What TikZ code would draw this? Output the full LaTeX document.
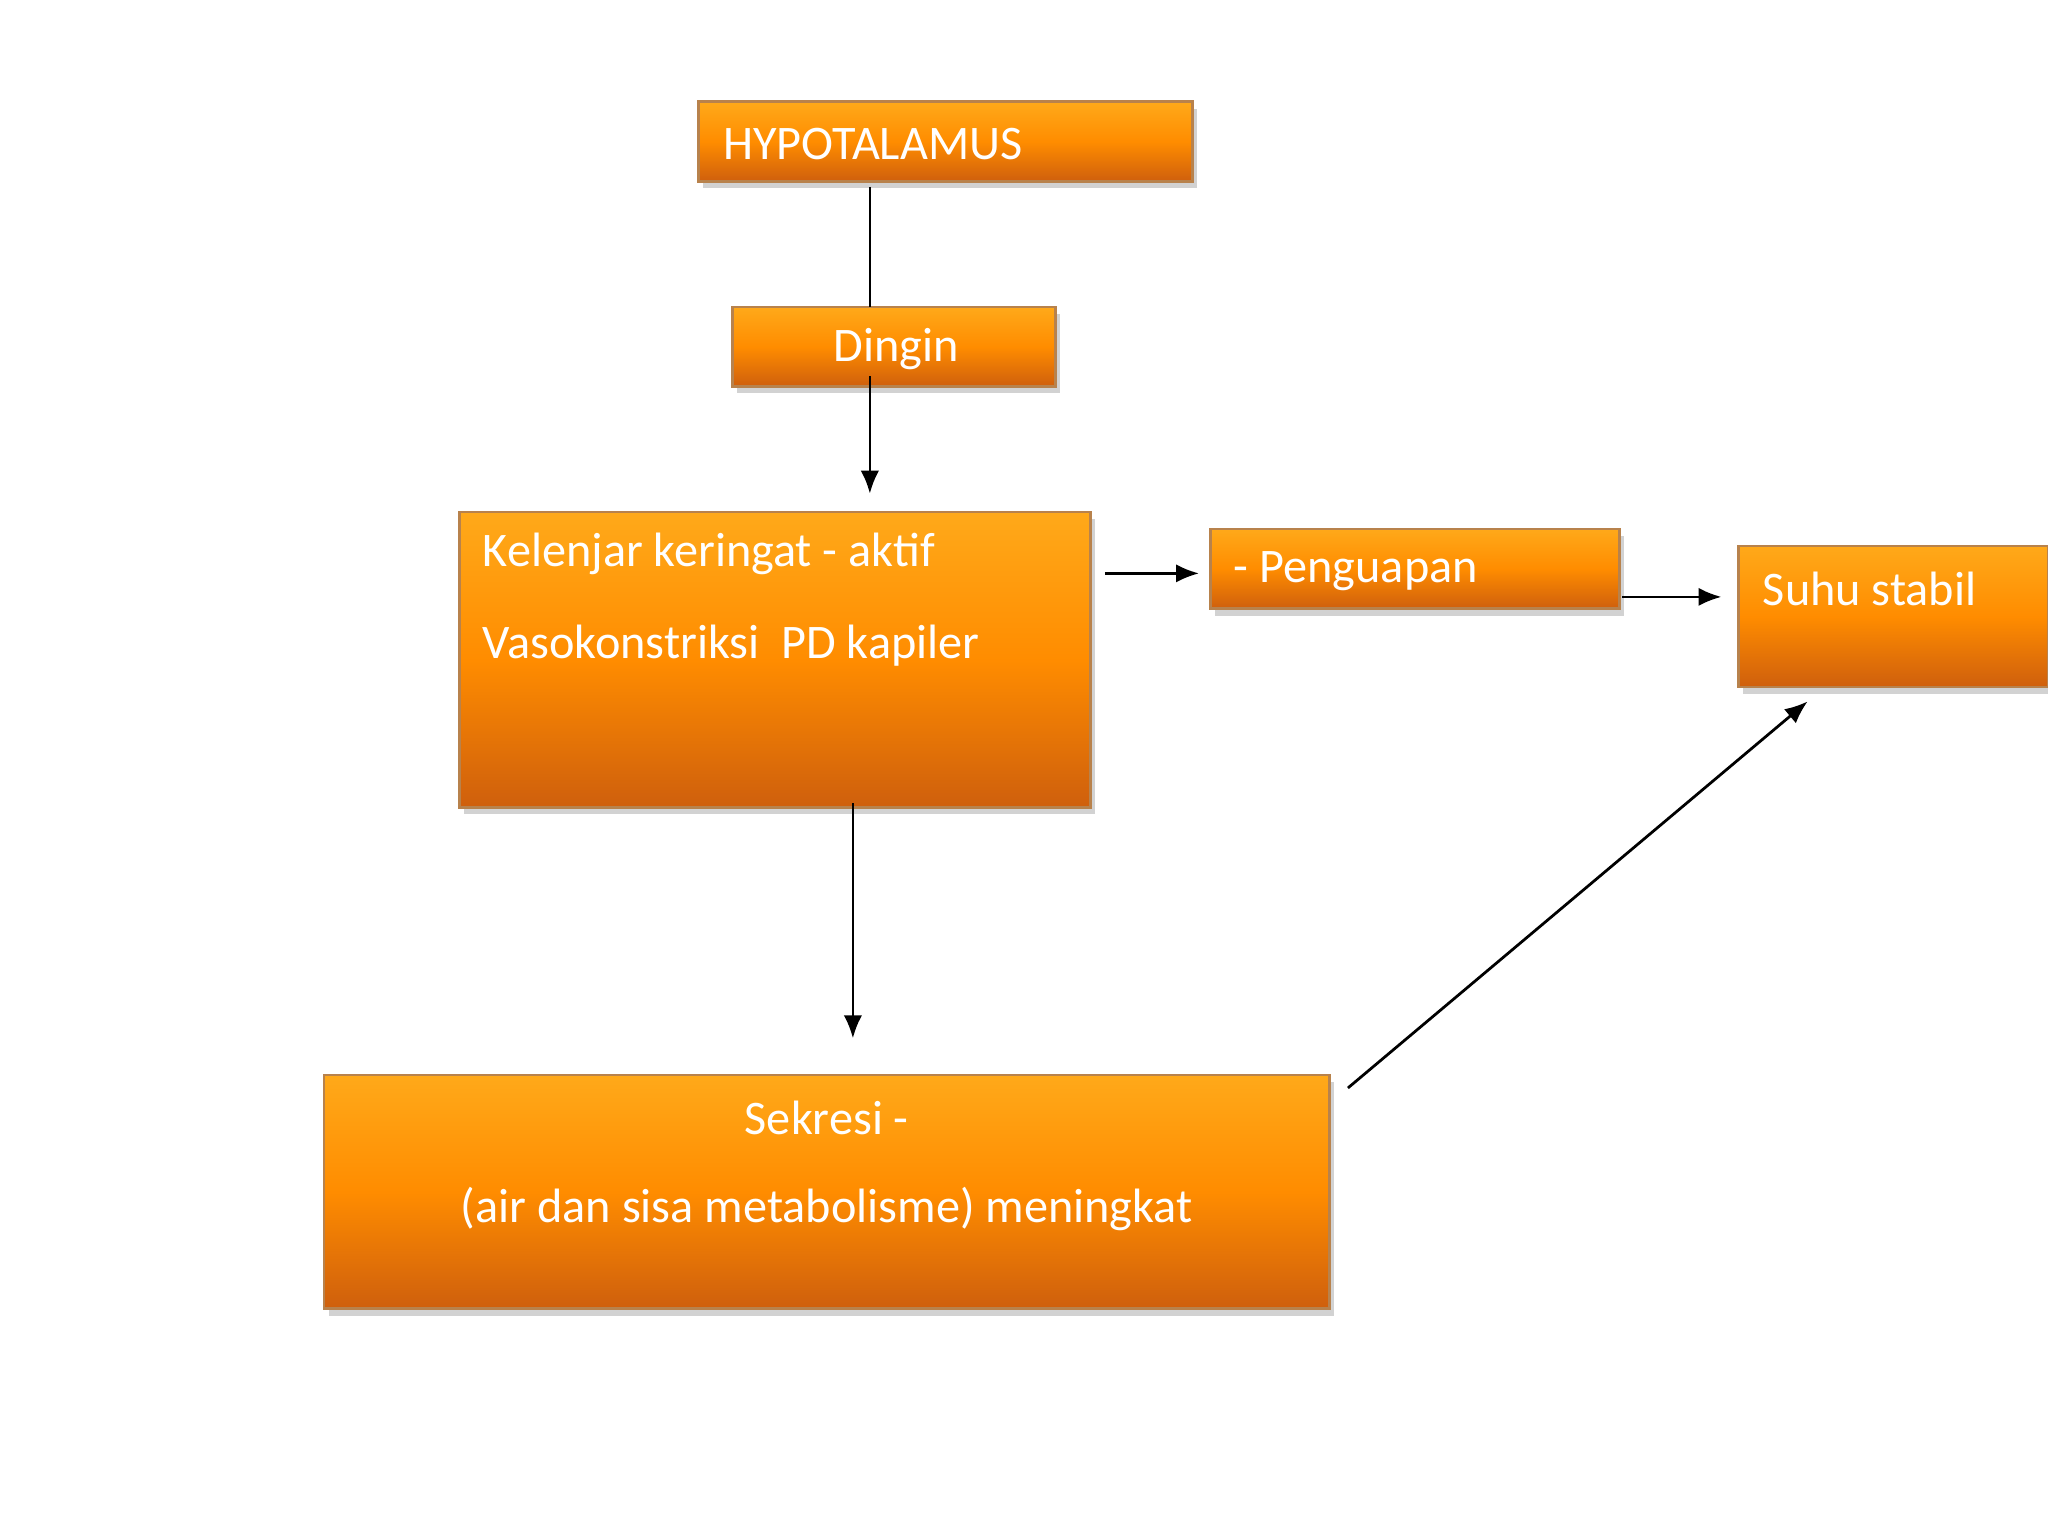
\documentclass[tikz,border=0pt]{standalone}
\usepackage{fontspec}
\setmainfont{Carlito}
\usetikzlibrary{arrows.meta,shadows}
\begin{document}
\begin{tikzpicture}[x=0.01cm,y=-0.01cm,
 box/.style={draw=orange!60!black!70,line width=0.6pt,top color=orange!75!yellow!90,bottom color=orange!85!red!80!black!95,middle color=orange!90!yellow,shading angle=0,drop shadow={shadow xshift=1pt,shadow yshift=-1.5pt,opacity=0.35}},
 txt/.style={text=white,font=\fontsize{10.5}{12}\selectfont,inner sep=0pt},
 arr/.style={-{Latex[length=5pt,width=4pt]},line width=0.6pt}]
\useasboundingbox (0,0) rectangle (1568,1176);
\fill[white] (0,0) rectangle (1568,1176);
\path[box] (535,78) rectangle (913,139);
\path[box] (561,235) rectangle (808,296);
\path[box] (352,392) rectangle (835,618);
\path[box] (927,405) rectangle (1240,466);
\path[box] (1331,418) rectangle (1568,526);
\path[box] (248,823) rectangle (1018,1002);
\node[txt,anchor=west] (hyp) at (553,110) {HYPOTALAMUS};
\node[txt] (din) at (686,267) {Dingin};
\node[txt,anchor=west] (kel1) at (369,424) {Kelenjar keringat - aktif};
\node[txt,anchor=west] (kel2) at (369,494) {Vasokonstriksi\ \ PD kapiler};
\node[txt,anchor=west] (pen) at (944,437) {- Penguapan};
\node[txt,anchor=west] (suh) at (1349,451) {Suhu stabil};
\node[txt] (sek1) at (633,856) {Sekresi -};
\node[txt] (sek2) at (633,926) {(air dan sisa metabolisme) meningkat};
\coordinate (a1) at (666,143); \coordinate (a2) at (666,235);
\coordinate (b1) at (666,288); \coordinate (b2) at (666,378);
\coordinate (c1) at (653,615); \coordinate (c2) at (653,795);
\coordinate (d1) at (846,439); \coordinate (d2) at (918,439);
\coordinate (e1) at (1242,457); \coordinate (e2) at (1318,457);
\coordinate (f1) at (1032,833); \coordinate (f2) at (1384,537);
\draw[line width=0.6pt] (a1) -- (a2);
\draw[arr] (b1) -- (b2);
\draw[arr] (c1) -- (c2);
\draw[arr] (d1) -- (d2);
\draw[arr] (e1) -- (e2);
\draw[arr] (f1) -- (f2);
\end{tikzpicture}
\end{document}
